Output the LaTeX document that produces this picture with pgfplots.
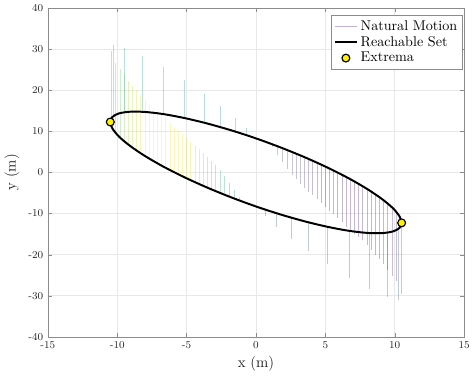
\documentclass[border=0pt]{standalone}
\usepackage{pgfplots}
\usepackage{pgfplotstable}
\pgfplotsset{compat=1.18}
\definecolor{lavender}{RGB}{195,178,210}
\definecolor{axgray}{RGB}{140,140,140}

% dense left segments: x, y0 (lower ellipse), y1 (top), c (colour)
\pgfplotstableread{
x y0 y1 c
-10.1 9.53 26.5 0.72
-9.8 8.49 25.2 0.77
-9.5 7.58 23.8 0.82
-9.2 6.76 22.3 0.86
-8.9 6.01 21.1 0.89
-8.6 5.30 20.1 0.92
-8.3 4.63 18.8 0.95
-8.0 3.99 17.6 0.97
-7.7 3.37 16.5 1.00
-7.4 2.78 15.7 1.00
-7.1 2.20 14.9 1.00
-6.8 1.64 14.0 1.00
-6.5 1.10 13.2 1.00
-6.2 0.57 12.1 1.00
-5.9 0.05 11.1 1.00
-5.6 -0.46 10.2 1.00
-5.3 -0.95 9.3 1.00
-5.0 -1.43 8.3 0.98
-4.7 -1.91 7.4 0.95
-4.4 -2.37 6.5 0.90
-4.1 -2.83 5.6 0.85
-3.8 -3.27 4.7 0.80
-3.5 -3.71 3.7 0.77
-3.2 -4.14 2.8 0.73
-2.9 -4.57 1.7 0.70
-2.6 -4.98 0.6 0.66
-2.25 -5.46 -0.9 0.62
-1.9 -5.92 -2.5 0.58
-1.55 -6.37 -4.3 0.55
-1.2 -6.82 -6.1 0.50
}\denseleft

% dense right segments
\pgfplotstableread{
x y0 y1 c
10.1 -9.53 -26.5 0.12
9.8 -8.49 -25.2 0.10
9.5 -7.58 -23.8 0.08
9.2 -6.76 -22.3 0.06
8.9 -6.01 -21.1 0.04
8.6 -5.30 -20.1 0.03
8.3 -4.63 -18.8 0.03
8.0 -3.99 -17.6 0.03
7.7 -3.37 -16.5 0.03
7.4 -2.78 -15.7 0.03
7.1 -2.20 -14.9 0.03
6.8 -1.64 -14.0 0.03
6.5 -1.10 -13.2 0.03
6.2 -0.57 -12.1 0.03
5.9 -0.05 -11.1 0.03
5.6 0.46 -10.2 0.03
5.3 0.95 -9.3 0.03
5.0 1.43 -8.3 0.04
4.7 1.91 -7.4 0.05
4.4 2.37 -6.5 0.08
4.1 2.83 -5.6 0.10
3.8 3.27 -4.7 0.12
3.5 3.71 -3.7 0.14
3.2 4.14 -2.8 0.16
2.9 4.57 -1.7 0.18
2.6 4.98 -0.6 0.20
2.25 5.46 0.9 0.22
1.9 5.92 2.5 0.24
1.55 6.37 4.3 0.26
1.2 6.82 6.1 0.28
}\denseright

% sparse segments
\pgfplotstableread{
x y0 y1 c
-10.45 13.02 29.6 0.62
-10.25 13.77 31.0 0.60
-9.45 14.65 30.3 0.60
-8.2 14.75 28.4 0.58
-6.7 14.20 25.7 0.56
-5.15 13.23 22.4 0.55
-3.75 12.11 19.2 0.54
-2.55 11.01 16.1 0.53
-1.5 9.94 13.3 0.52
-0.7 9.07 10.7 0.52
10.45 -13.02 -29.6 0.28
10.25 -13.77 -31.0 0.28
9.45 -14.65 -30.3 0.28
8.2 -14.75 -28.4 0.28
6.7 -14.20 -25.7 0.28
5.15 -13.23 -22.4 0.28
3.75 -12.11 -19.2 0.28
2.55 -11.01 -16.1 0.28
1.5 -9.94 -13.3 0.28
0.7 -9.07 -10.7 0.28
}\sparse

\begin{document}
\begin{tikzpicture}
\begin{axis}[
  width=318pt, height=251.25pt, scale only axis,
  xmin=-15, xmax=15, ymin=-40, ymax=40,
  xtick={-15,-10,...,15}, ytick={-40,-30,...,40},
  grid=major, grid style={draw=black!9, line width=0.4pt},
  axis line style={draw=axgray},
  tick align=inside, xtick pos=both, ytick pos=both,
  major tick length=3pt, tick style={draw=axgray},
  ticklabel style={font=\footnotesize, text=black!85},
  /pgf/number format/assume math mode=true,
  xlabel={x (m)}, ylabel={y (m)},
  label style={font=\fontsize{11.5}{13}\selectfont, text=black!90},
  xlabel style={yshift=1pt},
  colormap/viridis, point meta min=0, point meta max=1,
  legend cell align=left,
  legend style={at={(rel axis cs:0.997,0.978)}, anchor=north east,
    draw=black!45, fill=white, font=\fontsize{10.8}{12}\selectfont, row sep=-1pt,
    inner sep=2pt},
]
\addlegendimage{color=lavender, line width=0.9pt}
\addlegendentry{Natural Motion}

\addplot[forget plot, line width=0.6pt, draw opacity=0.32,
  point meta=explicit,
  quiver={u=0, v=\thisrow{y1}-\thisrow{y0}, colored=mapped color,
    every arrow/.append style={draw opacity=0.32, line width=0.6pt}}]
  table[x=x, y=y0, meta=c] {\denseleft};
\addplot[forget plot, line width=0.6pt, draw opacity=0.3,
  point meta=explicit,
  quiver={u=0, v=\thisrow{y1}-\thisrow{y0}, colored=mapped color,
    every arrow/.append style={draw opacity=0.3, line width=0.6pt}}]
  table[x=x, y=y0, meta=c] {\denseright};
\addplot[forget plot, line width=0.6pt, draw opacity=0.32,
  point meta=explicit,
  quiver={u=0, v=\thisrow{y1}-\thisrow{y0}, colored=mapped color,
    every arrow/.append style={draw opacity=0.32, line width=0.6pt}}]
  table[x=x, y=y0, meta=c] {\sparse};

\addplot[black, line width=1.5pt, smooth] coordinates {
(10.5,-12.27) (10.34,-13.52) (9.87,-14.36) (9.09,-14.76) (8.04,-14.72)
(6.75,-14.23) (5.25,-13.30) (3.59,-11.97) (1.82,-10.28) (0,-8.28)
(-1.82,-6.02) (-3.59,-3.58) (-5.25,-1.03) (-6.75,1.55) (-8.04,4.08)
(-9.09,6.49) (-9.87,8.70) (-10.34,10.65) (-10.5,12.27) (-10.34,13.52)
(-9.87,14.36) (-9.09,14.76) (-8.04,14.72) (-6.75,14.23) (-5.25,13.30)
(-3.59,11.97) (-1.82,10.28) (0,8.28) (1.82,6.02) (3.59,3.58)
(5.25,1.03) (6.75,-1.55) (8.04,-4.08) (9.09,-6.49) (9.87,-8.70)
(10.34,-10.65) (10.5,-12.27)};
\addlegendentry{Reachable Set}

\addplot[only marks, mark=*, mark size=3pt,
  mark options={fill=yellow, draw=black, line width=0.9pt}]
  coordinates {(-10.5,12.27) (10.5,-12.27)};
\addlegendentry{Extrema}
\end{axis}
\end{tikzpicture}
\end{document}
